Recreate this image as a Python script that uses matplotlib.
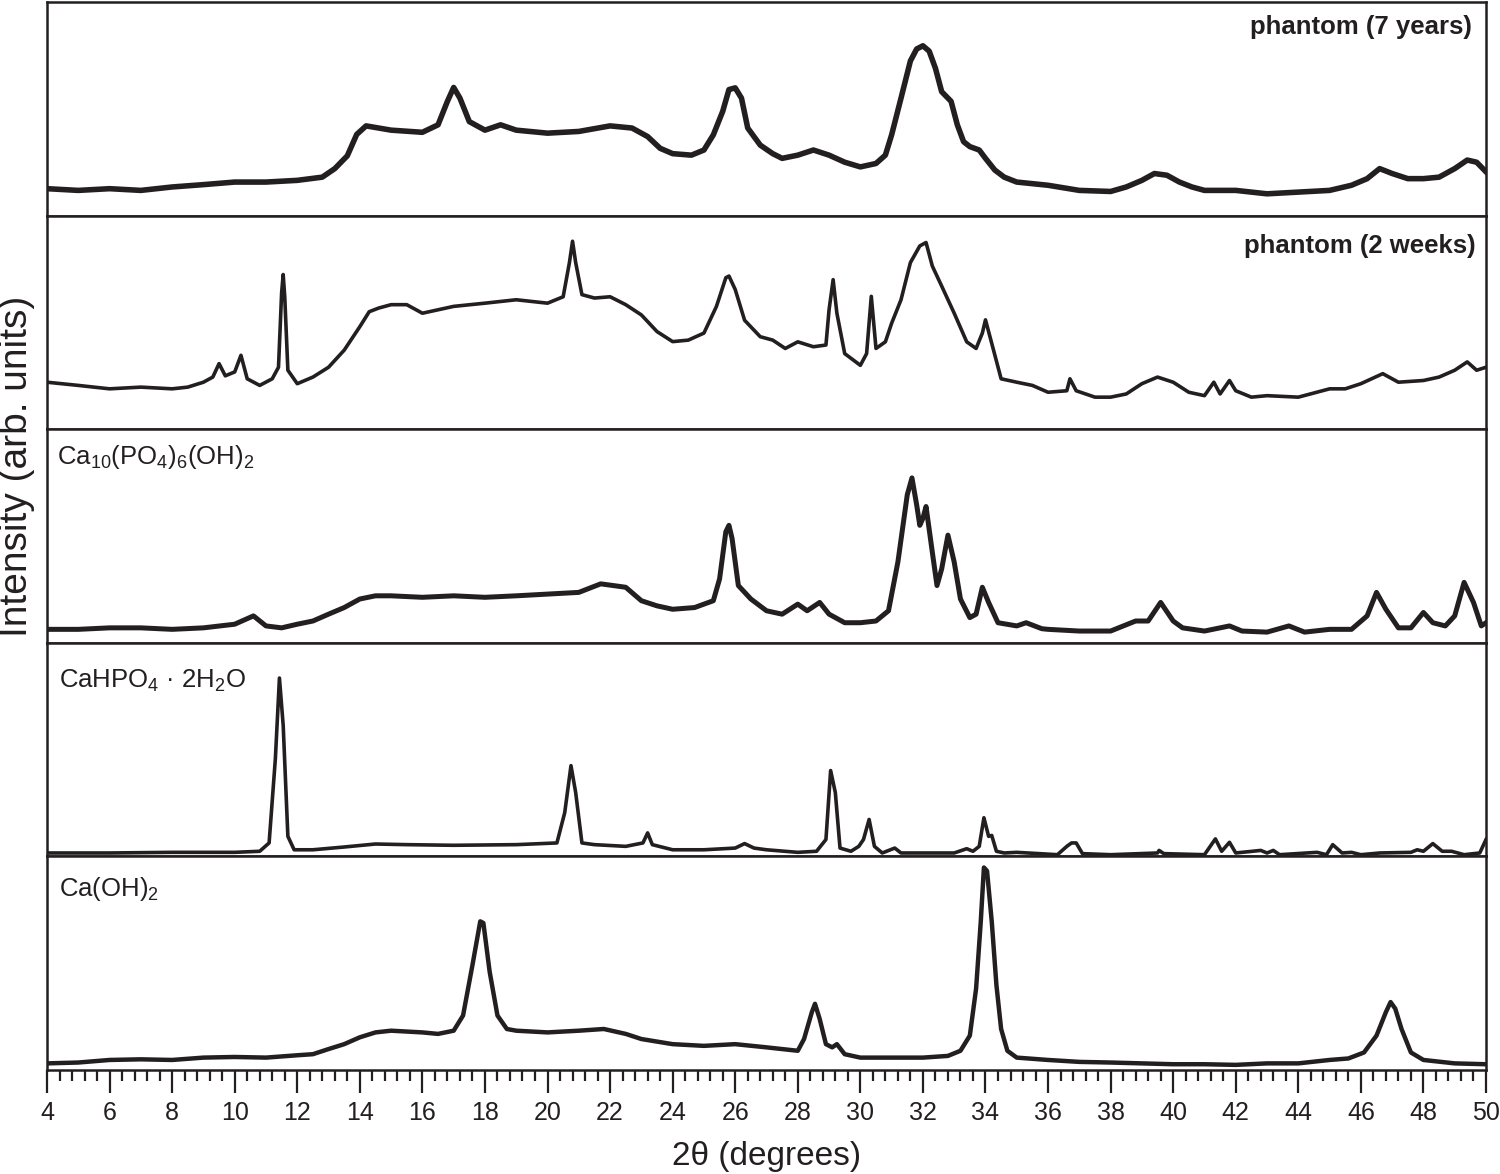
import matplotlib
matplotlib.use("Agg")
import matplotlib.pyplot as plt
from matplotlib.ticker import MultipleLocator

plt.rcParams['font.family'] = ['Liberation Sans', 'DejaVu Sans']
plt.rcParams['mathtext.fontset'] = 'custom'
plt.rcParams['mathtext.rm'] = 'Liberation Sans'
plt.rcParams['mathtext.it'] = 'Liberation Sans'
plt.rcParams['mathtext.default'] = 'regular'

# ---------------- data (2theta in degrees, intensity in arb. units 0-100) -------------
tt_7y = [4, 5, 6, 7, 8, 9, 10, 11, 12, 12.8, 13.2, 13.6, 13.9, 14.2, 15, 16, 16.5, 16.8, 17.0,
         17.2, 17.5, 18, 18.5, 19, 20, 21, 22, 22.7, 23.2, 23.6, 24, 24.6, 25.0, 25.3, 25.6,
         25.8, 26.0, 26.2, 26.4, 26.8, 27.2, 27.5, 28.0, 28.5, 29.0, 29.5, 30.0, 30.5, 30.8,
         31.0, 31.3, 31.6, 31.8, 32.0, 32.2, 32.4, 32.6, 32.9, 33.1, 33.3, 33.5, 33.8, 34.0,
         34.3, 34.6, 35, 36, 37, 38, 38.5, 39, 39.4, 39.8, 40.2, 40.6, 41, 42, 43, 44, 45,
         45.7, 46.2, 46.6, 47.0, 47.5, 48, 48.5, 49, 49.4, 49.7, 50]
int_7y = [12.6, 11.8, 12.6, 11.8, 13.4, 14.5, 15.7, 15.7, 16.5, 18, 22, 28, 38, 42, 40, 39, 42.5,
          53.5, 60, 55, 44, 40, 42.5, 40, 38.6, 39.4, 42, 41, 37, 31.5, 29, 28.3, 30.7, 37.8,
          48.8, 59, 59.8, 55, 41, 33, 29, 26.8, 28.3, 30.7, 28.3, 25, 22.8, 24.4, 28.3, 37.8,
          55, 72.4, 78, 79.5, 77, 69, 58, 53.5, 42.5, 34.6, 32.3, 30.7, 26.8, 21.3, 18, 15.7,
          14.2, 11.8, 11.3, 13.4, 16.5, 19.7, 18.9, 15.7, 13.4, 11.8, 11.8, 10.2, 11, 11.8,
          14.2, 17.3, 22, 19.7, 17.3, 17.3, 18, 22, 26, 25, 20.5]

tt_2w = [4, 5, 6, 7, 8, 8.5, 9, 9.3, 9.5, 9.7, 10.0, 10.2, 10.4, 10.8, 11.2, 11.4, 11.5, 11.55,
         11.6, 11.7, 12.0, 12.5, 13, 13.5, 14, 14.3, 14.6, 15, 15.5, 16, 17, 18, 19, 20, 20.5,
         20.7, 20.8, 20.9, 21.1, 21.5, 22, 22.5, 23, 23.5, 24, 24.5, 25, 25.4, 25.7, 25.8, 26.0,
         26.3, 26.8, 27.2, 27.6, 28.0, 28.5, 28.9, 29.0, 29.13, 29.25, 29.5, 30.0, 30.2, 30.35,
         30.5, 30.8, 31.0, 31.3, 31.6, 31.9, 32.1, 32.3, 32.6, 33.0, 33.4, 33.7, 33.9, 34.0,
         34.2, 34.5, 35, 35.5, 36, 36.6, 36.7, 36.9, 37.5, 38, 38.5, 39, 39.5, 40, 40.5, 41,
         41.3, 41.5, 41.8, 42.0, 42.5, 43, 44, 45, 45.5, 46, 46.7, 47.2, 48, 48.5, 49, 49.4,
         49.7, 50]
int_2w = [22, 20.5, 18.9, 19.7, 18.9, 19.7, 22, 24.4, 30.7, 25, 26.8, 34.6, 23.6, 20.5, 23.6, 29,
          63.8, 72.4, 62, 27.6, 21.3, 24.4, 29, 37, 48, 55, 56.7, 58.3, 58.3, 54.3, 57.5, 59,
          60.6, 59, 62, 78, 88, 78, 63, 61.4, 62, 58.3, 53.5, 45.7, 41, 41.7, 45, 57.5, 70.9,
          71.7, 65.4, 51, 43.3, 41.7, 37.8, 40.9, 38.6, 39.4, 55.9, 70, 54.3, 35.4, 29.9, 35.4,
          62.2, 37.8, 40.9, 49.6, 60.6, 78, 85.8, 87.4, 76.4, 67, 54.3, 40.9, 37.8, 45, 51.2,
          40.2, 23.6, 22, 20.5, 17.3, 18, 23.6, 18, 15, 15, 16.5, 21.3, 24.4, 22, 17.3, 15.7,
          22, 16.5, 22.8, 18, 15, 15.7, 15, 18.9, 18.9, 21.3, 26, 22, 22.8, 24.4, 27.6, 31.5,
          27.6, 29]

tt_ha = [4, 5, 6, 7, 8, 9, 10, 10.6, 11, 11.5, 12, 12.5, 13, 13.5, 14, 14.5, 15, 16, 17, 18, 19,
         20, 21, 21.7, 22.5, 23, 23.5, 24, 24.7, 25.3, 25.5, 25.7, 25.8, 25.9, 26.1, 26.5, 27,
         27.5, 28.0, 28.3, 28.7, 29.0, 29.5, 30, 30.5, 30.9, 31.2, 31.5, 31.65, 31.8, 31.9,
         32.0, 32.1, 32.3, 32.45, 32.6, 32.8, 33.0, 33.2, 33.5, 33.7, 33.9, 34.1, 34.4, 35,
         35.3, 35.8, 36, 37, 38, 38.8, 39.2, 39.6, 40, 40.3, 41, 41.8, 42.2, 43, 43.7, 44.2, 45,
         45.7, 46.2, 46.5, 46.8, 47.2, 47.6, 48.0, 48.3, 48.7, 49.0, 49.3, 49.6, 49.85, 50]
int_ha = [6.3, 6.3, 7, 7, 6.3, 7, 8.7, 12.6, 7.9, 7, 8.7, 10.2, 13.4, 16.5, 20.5, 22, 22, 21.3,
          22, 21.3, 22, 22.8, 23.6, 27.6, 26, 19.7, 17.3, 15.7, 16.5, 19.7, 29.9, 52, 55, 48.8,
          26.8, 20.5, 15, 13.4, 18.1, 15, 18.9, 13.4, 9.4, 9.4, 10.2, 15, 37.8, 69.3, 77.2,
          64.6, 55, 58.3, 63.8, 42.5, 26.8, 34.6, 50.4, 37.8, 20.5, 11.8, 13.4, 26, 18.9, 9.4,
          7.9, 9.4, 6.6, 6.3, 5.5, 5.5, 10.2, 10.2, 18.9, 10.2, 7, 5.5, 7.9, 5.5, 5, 7.9, 5,
          6.3, 6.3, 12.6, 23.6, 15.7, 7, 7, 14.2, 9.4, 7.9, 12.6, 28.3, 18.9, 7.9, 9.4]

tt_dcpd = [4, 6, 8, 10, 10.8, 11.1, 11.3, 11.43, 11.55, 11.7, 11.9, 12.5, 13.5, 14.5, 15.5, 17,
           19, 20.3, 20.55, 20.75, 20.9, 21.1, 21.5, 22.5, 23.05, 23.2, 23.35, 24, 25, 26.0,
           26.3, 26.6, 27, 28, 28.6, 28.9, 29.05, 29.2, 29.35, 29.7, 29.95, 30.1, 30.28, 30.45,
           30.7, 31.1, 31.3, 32, 33, 33.4, 33.6, 33.8, 33.95, 34.1, 34.2, 34.35, 34.6, 35, 36.3,
           36.6, 36.75, 36.9, 37.1, 38, 39.5, 39.55, 39.7, 41, 41.35, 41.55, 41.8, 42.0, 42.8,
           43.0, 43.2, 43.4, 44.6, 44.9, 45.1, 45.4, 45.7, 46, 46.6, 47.6, 47.8, 48.0, 48.3,
           48.6, 48.9, 49.3, 49.8, 50]
int_dcpd = [1.6, 1.6, 1.9, 1.9, 2.4, 6.3, 45.7, 83.5, 61.4, 9.4, 3.1, 3.1, 4.4, 5.8, 5.5, 5.2,
            5.5, 6.3, 20.5, 42.5, 29.9, 6.3, 5.5, 4.7, 6.3, 11, 5.5, 3.1, 3.1, 3.9, 6, 3.9, 3.1,
            1.9, 2.4, 7.9, 40.2, 29.9, 3.9, 2.4, 4.7, 7.9, 17.3, 4.7, 1.6, 3.9, 1.6, 1.6, 1.6,
            3.6, 2.4, 4.7, 18.1, 9.4, 9.8, 2.4, 1.6, 1.9, 0.8, 4.7, 6.3, 6.3, 1.3, 0.8, 1.6, 2.8,
            1.3, 0.8, 8.2, 2.4, 6.6, 1.6, 2.8, 1.6, 2.8, 0.8, 1.9, 0.8, 5.5, 1.6, 1.9, 0.8, 1.6,
            1.9, 3.1, 2.4, 6, 2.4, 2.4, 0.8, 1.6, 7.9]

tt_caoh = [4, 5, 6, 7, 8, 9, 10, 11, 12, 12.5, 13, 13.5, 14, 14.5, 15, 16, 16.5, 17.0, 17.3, 17.6,
           17.85, 17.95, 18.15, 18.4, 18.7, 19, 20, 21, 21.8, 22.5, 23, 24, 25, 26, 27, 27.5,
           28.0, 28.2, 28.45, 28.55, 28.7, 28.9, 29.1, 29.25, 29.5, 30, 31, 32, 32.8, 33.2, 33.5,
           33.7, 33.85, 33.95, 34.05, 34.2, 34.35, 34.5, 34.7, 35, 36, 37, 38, 39, 40, 41, 42,
           43, 44, 45, 45.6, 46.1, 46.5, 46.8, 46.95, 47.1, 47.3, 47.6, 48, 49, 50]
int_caoh = [3.1, 3.5, 4.7, 5, 4.7, 5.8, 6.1, 5.8, 6.9, 7.4, 9.8, 12.1, 15.3, 17.6, 18.4, 17.6,
            16.9, 18.4, 25.5, 49.1, 69.6, 68.8, 46, 25.5, 19.2, 18.4, 17.6, 18.4, 19.2, 16.9,
            14.5, 12.1, 11.3, 12.1, 10.6, 9.8, 9, 14.5, 27.1, 31, 23.9, 12.1, 10.6, 12.1, 7.4,
            5.8, 5.8, 5.8, 6.6, 9, 16.1, 38.1, 69.6, 94.8, 93.2, 69.6, 39.7, 19.2, 9, 5.8, 4.7,
            3.8, 3.5, 3.1, 2.7, 2.7, 2.4, 3.1, 3.1, 4.7, 5.4, 8.2, 16.1, 27.1, 31.8, 28.7, 19.2,
            8.2, 4.7, 3.1, 2.7]

panel_labels = ['phantom (7 years)', 'phantom (2 weeks)',
                r'Ca$_{10}$(PO$_4$)$_6$(OH)$_2$', r'CaHPO$_4$ · 2H$_2$O', r'Ca(OH)$_2$']
x_ticks = list(range(4, 51, 2))

# ---------------- figure ----------------
color = '#231f20'
fig = plt.figure(figsize=(15, 11.74), dpi=100)
gs = fig.add_gridspec(5, 1, left=47/1500, right=1486/1500, top=1-2/1174,
                      bottom=1-1070/1174, hspace=0)
series = [(tt_7y, int_7y, 4.0), (tt_2w, int_2w, 2.6), (tt_ha, int_ha, 3.6),
          (tt_dcpd, int_dcpd, 2.6), (tt_caoh, int_caoh, 3.2)]
label_pos = [(0.990, 0.94, 'right', 'bold'), (0.993, 0.915, 'right', 'bold'),
             (0.007, 0.935, 'left', 'normal'), (0.008, 0.885, 'left', 'normal'),
             (0.008, 0.915, 'left', 'normal')]
axes = []
for i, (xs, ys, lw) in enumerate(series):
    ax = fig.add_subplot(gs[i])
    ax.plot(xs, ys, color=color, lw=lw, solid_joinstyle='round')
    ax.set_xlim(4, 50)
    ax.set_ylim(0, 100)
    ax.set_yticks([])
    for s in ax.spines.values():
        s.set_linewidth(1.8)
        s.set_color(color)
    xf, yf, ha, fw = label_pos[i]
    ax.text(xf, yf, panel_labels[i], transform=ax.transAxes, ha=ha, va='top',
            fontsize=18.5, fontweight=fw, color=color)
    if i < 4:
        ax.tick_params(axis='x', which='both', bottom=False, labelbottom=False)
    axes.append(ax)

axb = axes[-1]
axb.set_xticks(x_ticks)
axb.xaxis.set_minor_locator(MultipleLocator(0.4))
axb.tick_params(axis='x', which='major', direction='out', length=16.5, width=1.6,
                labelsize=18, pad=6, colors=color)
axb.tick_params(axis='x', which='minor', direction='out', length=8, width=1.6, colors=color)

fig.text(767/1500, 1-1157/1174, '2θ (degrees)', ha='center', va='center',
         fontsize=24, color=color)
fig.text(17/1500, 1-466/1174, 'Intensity (arb. units)', ha='center', va='center',
         rotation=90, fontsize=28, color=color)

fig.savefig('out.png', dpi=100)
